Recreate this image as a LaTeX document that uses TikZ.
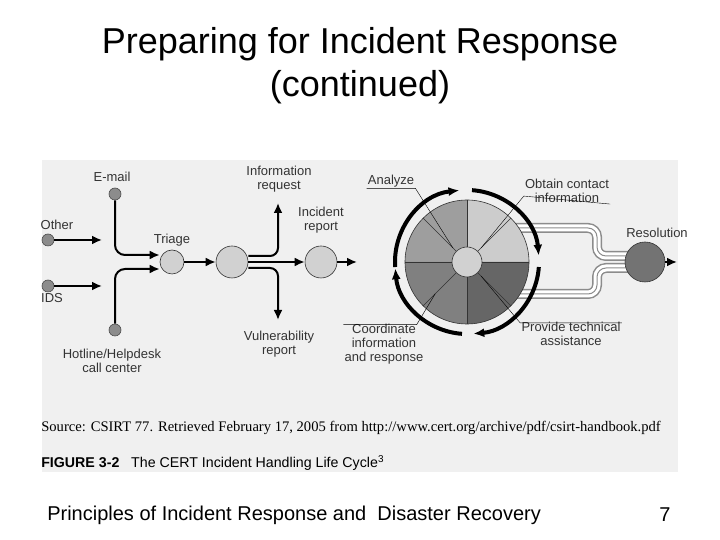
\documentclass[tikz,border=0pt]{standalone}
\usepackage{fontspec}
\setmainfont{Liberation Sans}
\usetikzlibrary{arrows.meta,positioning,calc}
\begin{document}
\begin{tikzpicture}[x=1pt,y=1pt,semithick,inner sep=1pt,
    lbl/.style={font=\fontsize{13}{14}\selectfont,align=center,text=black!80},
    src/.style={circle,draw=black!70,fill=black!45,minimum size=12pt},
    hub/.style={circle,draw=black!80,fill=black!18,minimum size=#1},
    flow/.style={draw=black,line width=2pt,-{Latex[length=10pt,width=9pt]}},
    cyc/.style={line width=4pt,-{Latex[length=11pt,width=9pt]}},
    pipe/.style={rounded corners=9pt,line width=10pt,draw=black!45}]
  \useasboundingbox (0,0) rectangle (720,540);
  \fill[black!6] (42,68) rectangle (678,380);
  % title and footer
  \node (title) at (360,496) {\fontsize{36}{40}\selectfont Preparing for Incident Response};
  \node (cont) at (360,453) {\fontsize{36}{40}\selectfont (continued)};
  \node[anchor=west] (foot) at (46,25) {\fontsize{20}{24}\selectfont Principles of Incident Response and\ \ Disaster Recovery};
  \node (page) at (665,25) {\fontsize{20}{24}\selectfont 7};
  % sources
  \node[src] (mail) at (115,346) {};
  \node[src] (other) at (48,300) {};
  \node[src] (ids) at (48,254) {};
  \node[src] (hot) at (115,210) {};
  \node[lbl] at (112,363) {E-mail};
  \node[lbl] at (57,315) {Other};
  \node[lbl] at (52,242) {IDS};
  \node[lbl] at (112,179) {Hotline/Helpdesk\\call center};
  \coordinate (otherend) at (102,300);
  \coordinate (idsend) at (102,254);
  \draw[flow] (other) -- (otherend);
  \draw[flow] (ids) -- (idsend);
  % triage
  \node[hub=24pt] (triage) at (172,278) {};
  \node[lbl] at (172,300) {Triage};
  \draw[flow,rounded corners=10pt] (mail) |- ([yshift=7pt]triage.west);
  \draw[flow,rounded corners=10pt] (hot) |- ([yshift=-7pt]triage.west);
  \node[hub=32pt] (sort) at (232,278) {};
  \draw[flow] (triage) -- (sort);
  \node[hub=32pt] (inc) at (321,278) {};
  \node[lbl] at (321,320) {Incident\\report};
  \coordinate (inforeq) at (278,337);
  \coordinate (vulrep) at (278,220);
  \node[lbl] at (279,361) {Information\\request};
  \node[lbl] at (279,196) {Vulnerability\\report};
  \draw[flow,rounded corners=8pt] ([yshift=6pt]sort.east) -| (inforeq);
  \draw[flow,rounded corners=8pt] ([yshift=-6pt]sort.east) -| (vulrep);
  \draw[flow] (sort) -- (inc);
  \coordinate (wheelin) at (357,278);
  \draw[flow] (inc) -- (wheelin);
  % pipes to resolution
  \foreach \a/\b in {312/284,246/272}{
    \draw[pipe] (515,\a) -- (597,\a) -- (597,\b) -- (628,\b);
    \draw[pipe,draw=white,line width=7pt] (515,\a) -- (597,\a) -- (597,\b) -- (628,\b);
    \draw[pipe,line width=1pt] (515,\a) -- (597,\a) -- (597,\b) -- (628,\b);
  }
  \node[circle,draw=black!80,fill=black!55,minimum size=40pt] (res) at (645,278) {};
  \node[lbl] at (657,307) {Resolution};
  \coordinate (resend) at (677,278);
  \draw[flow] (res) -- (resend);
  % life cycle wheel
  \coordinate (wc) at (467,278);
  \fill[black!20] (wc) -- ++(0:62) arc (0:90:62) -- cycle;
  \fill[black!38] (wc) -- ++(90:62) arc (90:180:62) -- cycle;
  \fill[black!50] (wc) -- ++(180:62) arc (180:270:62) -- cycle;
  \fill[black!60] (wc) -- ++(270:62) arc (270:360:62) -- cycle;
  \foreach \t in {0,45,...,315}
    \draw[black!80,thin] (wc) -- ++(\t:62);
  \draw[black!80] (wc) circle (62);
  \node[hub=30pt] (core) at (wc) {};
  \draw[cyc] (wc) ++(184:72) arc (184:96:72);
  \draw[cyc] (wc) ++(86:72) arc (86:5:72);
  \draw[cyc] (wc) ++(-4:72) arc (-4:-85:72);
  \draw[cyc] (wc) ++(-94:72) arc (-94:-175:72);
  % stage labels
  \node[lbl] (ana) at (391,359) {Analyze};
  \node[lbl] (obt) at (567,349) {Obtain contact\\information};
  \node[lbl] (coo) at (384,196) {Coordinate\\information\\and response};
  \node[lbl] (pro) at (571,206) {Provide technical\\assistance};
  \draw[thin] (ana.south west) -- (ana.south east) -- ($(wc)+(135:20)$);
  \draw[thin] (obt.south east) -- ([yshift=8pt]obt.south west) -- ($(wc)+(45:20)$);
  \draw[thin] ([yshift=-2pt]coo.north west) -- ([yshift=-2pt,xshift=-8pt]coo.north east) -- ($(wc)+(225:45)$);
  \draw[thin] ([yshift=-2pt]pro.north east) -- ([yshift=-2pt]pro.north west) -- ($(wc)+(-45:20)$);
  % caption
  \node[anchor=west,font=\fontspec{Liberation Serif}\fontsize{14.6}{16}\selectfont] (srcline) at (40,112) {Source: CSIRT 77. Retrieved February 17, 2005 from http://www.cert.org/archive/pdf/csirt-handbook.pdf};
  \node[anchor=west,font=\fontsize{14.2}{16}\selectfont] (fig) at (40,77) {\textbf{FIGURE 3-2}\ \ \ The CERT Incident Handling Life Cycle\textsuperscript{3}};
\end{tikzpicture}
\end{document}
